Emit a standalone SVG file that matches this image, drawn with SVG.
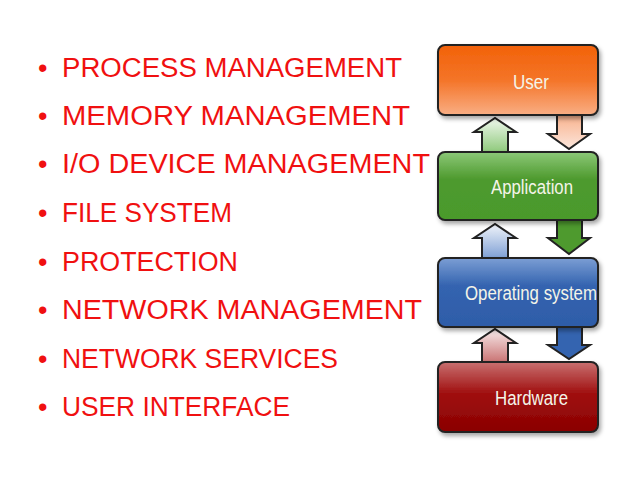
<svg xmlns="http://www.w3.org/2000/svg" width="638" height="478" viewBox="0 0 638 478">
<defs>
<linearGradient id="gU" x1="0" y1="0" x2="0" y2="1"><stop offset="0" stop-color="#f26208"/><stop offset="0.5" stop-color="#f47428"/><stop offset="1" stop-color="#f9ae84"/></linearGradient>
<linearGradient id="gA" x1="0" y1="0" x2="0" y2="1"><stop offset="0" stop-color="#8cc878"/><stop offset="0.4" stop-color="#4e9a2e"/><stop offset="1" stop-color="#4a9a2c"/></linearGradient>
<linearGradient id="gO" x1="0" y1="0" x2="0" y2="1"><stop offset="0" stop-color="#7c9ed4"/><stop offset="0.4" stop-color="#3464b0"/><stop offset="1" stop-color="#2e5ca8"/></linearGradient>
<linearGradient id="gH" x1="0" y1="0" x2="0" y2="1"><stop offset="0" stop-color="#c87070"/><stop offset="0.45" stop-color="#a01010"/><stop offset="1" stop-color="#8a0000"/></linearGradient>
<linearGradient id="aU" x1="0" y1="0" x2="0" y2="1"><stop offset="0" stop-color="#f9b08a"/><stop offset="1" stop-color="#fbe6dc"/></linearGradient>
<linearGradient id="aUp1" x1="0" y1="1" x2="0" y2="0"><stop offset="0" stop-color="#8cc878"/><stop offset="1" stop-color="#f0f8ee"/></linearGradient>
<linearGradient id="aUp2" x1="0" y1="1" x2="0" y2="0"><stop offset="0" stop-color="#7c9ed4"/><stop offset="1" stop-color="#f0f4fa"/></linearGradient>
<linearGradient id="aUp3" x1="0" y1="1" x2="0" y2="0"><stop offset="0" stop-color="#c87070"/><stop offset="1" stop-color="#f8ecec"/></linearGradient>
<filter id="sh" x="-10%" y="-10%" width="125%" height="130%"><feDropShadow dx="2" dy="3" stdDeviation="2" flood-opacity="0.35"/></filter>
</defs>
<style>
.b{font-family:"Liberation Sans",Arial,sans-serif;font-size:27px;fill:#f01010}
.box{stroke:#222;stroke-width:2;filter:url(#sh)}
.ar{stroke:#222;stroke-width:2;stroke-linejoin:miter}
.lbl{font-family:"Liberation Sans",Arial,sans-serif;font-size:20px;fill:#f4f4e8}
</style>
<rect width="638" height="478" fill="#fff"/>
<g id="bullets">
<text class="b" x="38" y="77">•</text><text class="b" x="62" y="77" textLength="340" lengthAdjust="spacingAndGlyphs">PROCESS MANAGEMENT</text>
<text class="b" x="38" y="125">•</text><text class="b" x="62" y="125" textLength="348" lengthAdjust="spacingAndGlyphs">MEMORY MANAGEMENT</text>
<text class="b" x="38" y="173">•</text><text class="b" x="62" y="173" textLength="368" lengthAdjust="spacingAndGlyphs">I/O DEVICE MANAGEMENT</text>
<text class="b" x="38" y="222">•</text><text class="b" x="62" y="222" textLength="170" lengthAdjust="spacingAndGlyphs">FILE SYSTEM</text>
<text class="b" x="38" y="271">•</text><text class="b" x="62" y="271" textLength="176" lengthAdjust="spacingAndGlyphs">PROTECTION</text>
<text class="b" x="38" y="319">•</text><text class="b" x="62" y="319" textLength="360" lengthAdjust="spacingAndGlyphs">NETWORK MANAGEMENT</text>
<text class="b" x="38" y="368">•</text><text class="b" x="62" y="368" textLength="276" lengthAdjust="spacingAndGlyphs">NETWORK SERVICES</text>
<text class="b" x="38" y="416">•</text><text class="b" x="62" y="416" textLength="228" lengthAdjust="spacingAndGlyphs">USER INTERFACE</text>
</g>
<g id="connectors">
<path class="ar" fill="url(#aU)" d="M557 114 V134 H548 L569 149 L590 134 H582 V114 Z"/>
<path class="ar" fill="url(#aUp1)" d="M482 153 V132 H474 L495 118 L516 132 H508 V153 Z"/>
<path class="ar" fill="#4e9a2e" d="M557 219 V238 H548 L569 254 L590 238 H582 V219 Z"/>
<path class="ar" fill="url(#aUp2)" d="M482 259 V238 H474 L495 224 L516 238 H508 V259 Z"/>
<path class="ar" fill="#3464b0" d="M557 326 V345 H548 L569 359 L590 345 H582 V326 Z"/>
<path class="ar" fill="url(#aUp3)" d="M482 363 V343 H474 L495 329 L516 343 H508 V363 Z"/>
</g>
<g id="user"><rect class="box" x="438" y="45" width="160" height="70" rx="7" fill="url(#gU)"/><text class="lbl" x="513" y="89" textLength="36" lengthAdjust="spacingAndGlyphs">User</text></g>
<g id="application"><rect class="box" x="438" y="152" width="160" height="68" rx="7" fill="url(#gA)"/><text class="lbl" x="491" y="194" textLength="82" lengthAdjust="spacingAndGlyphs">Application</text></g>
<g id="os"><rect class="box" x="438" y="258" width="160" height="69" rx="7" fill="url(#gO)"/><text class="lbl" x="465" y="300" textLength="132" lengthAdjust="spacingAndGlyphs">Operating system</text></g>
<g id="hardware"><rect class="box" x="438" y="362" width="160" height="70" rx="7" fill="url(#gH)"/><text class="lbl" x="495" y="405" textLength="73" lengthAdjust="spacingAndGlyphs">Hardware</text></g>
</svg>
